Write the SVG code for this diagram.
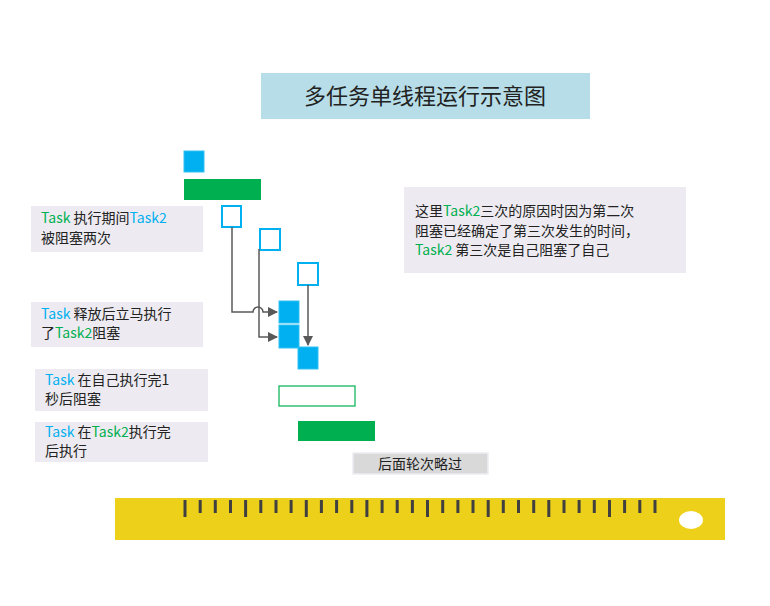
<svg xmlns="http://www.w3.org/2000/svg" width="770" height="606" viewBox="0 0 770 606">
<defs>
<style>
text{font-family:"Microsoft YaHei","Noto Sans CJK SC",sans-serif;font-size:14px;fill:#222}
.g{fill:#00B050}.b{fill:#00B0F0}
.lbl{fill:#EDEBF1}
.blk{fill:#00B0F0;stroke:#33C0F2;stroke-width:1}
.hol{fill:#fff;stroke:#00B0F0;stroke-width:2}
.con{fill:none;stroke:#595959;stroke-width:1.5}
.tick{stroke:#404040;stroke-width:3}
</style>
<marker id="ar" markerWidth="10" markerHeight="10" refX="9" refY="5" orient="auto" markerUnits="userSpaceOnUse"><path d="M0,0 L10,5 L0,10 Z" fill="#595959"/></marker>
</defs>
<g id="title"><rect x="261" y="73" width="329" height="46" fill="#B7DEE8"/><text x="425" y="104" text-anchor="middle" style="font-size:22px">多任务单线程运行示意图</text></g>
<g id="task-blk"><rect class="blk" x="184" y="151" width="20" height="21"/></g>
<g id="task-bar"><rect x="184" y="179" width="77" height="21" fill="#00B050"/></g>
<g id="h1"><rect class="hol" x="222" y="206" width="19" height="21"/></g>
<g id="h2"><rect class="hol" x="260" y="229" width="20" height="21"/></g>
<g id="h3"><rect class="hol" x="298" y="263" width="20" height="22"/></g>
<g id="f1"><rect class="blk" x="279" y="301" width="20" height="22"/></g>
<g id="f2"><rect class="blk" x="279" y="325" width="20" height="23"/></g>
<g id="f3"><rect class="blk" x="298" y="347" width="20" height="22"/></g>
<g id="connectors">
<path class="con" d="M232,227 V312 H253 A5,5 0 0 1 263,312 H277" marker-end="url(#ar)"/>
<path class="con" d="M259,249 V337 H277" marker-end="url(#ar)"/>
<path class="con" d="M308,285 V345" marker-end="url(#ar)"/>
</g>
<g id="hollow-bar"><rect x="279" y="386" width="76" height="20" fill="#fff" stroke="#00B050" stroke-width="1.2"/></g>
<g id="bar2"><rect x="298" y="421" width="77" height="20" fill="#00B050"/></g>
<g id="l1"><rect class="lbl" x="31" y="206" width="172" height="46"/><text x="41" y="223"><tspan class="g">Task</tspan> 执行期间<tspan class="b">Task2</tspan></text><text x="41" y="243">被阻塞两次</text></g>
<g id="l2"><rect class="lbl" x="31" y="302" width="172" height="45"/><text x="41" y="319"><tspan class="b">Task</tspan> 释放后立马执行</text><text x="41" y="338">了<tspan class="g">Task2</tspan>阻塞</text></g>
<g id="l3"><rect class="lbl" x="35" y="369" width="173" height="42"/><text x="45" y="385"><tspan class="b">Task</tspan> 在自己执行完1</text><text x="45" y="404">秒后阻塞</text></g>
<g id="l4"><rect class="lbl" x="35" y="422" width="173" height="40"/><text x="45" y="437"><tspan class="b">Task</tspan> 在<tspan class="g">Task2</tspan>执行完</text><text x="45" y="456">后执行</text></g>
<g id="note"><rect class="lbl" x="404" y="187" width="282" height="86"/><text x="415" y="216">这里<tspan class="g">Task2</tspan>三次的原因时因为第二次</text><text x="415" y="236">阻塞已经确定了第三次发生的时间，</text><text x="415" y="255"><tspan class="g">Task2</tspan> 第三次是自己阻塞了自己</text></g>
<g id="skip"><rect x="353" y="453" width="135" height="21" fill="#D9D9D9" stroke="#EDEBF1" stroke-width="1.5"/><text x="420" y="469" text-anchor="middle">后面轮次略过</text></g>
<g id="ruler"><rect x="115" y="498" width="610" height="42" fill="#EDD01A"/>
<g class="tick">
<path d="M185,500V517M200.2,500V513M215.3,500V513M230.5,500V513M245.6,500V517M260.8,500V513M276,500V513M291.1,500V513M306.3,500V517M321.4,500V513M336.6,500V513M351.8,500V513M366.9,500V517M382.1,500V513M397.2,500V513M412.4,500V513M427.5,500V517M442.7,500V513M457.9,500V513M473,500V513M488.2,500V517M503.3,500V513M518.5,500V513M533.7,500V513M548.8,500V517M564,500V513M579.1,500V513M594.3,500V513M609.5,500V517M624.6,500V513M639.8,500V513M655,500V513"/>
</g>
<ellipse cx="691" cy="520" rx="12" ry="9" fill="#fff"/></g>
</svg>
